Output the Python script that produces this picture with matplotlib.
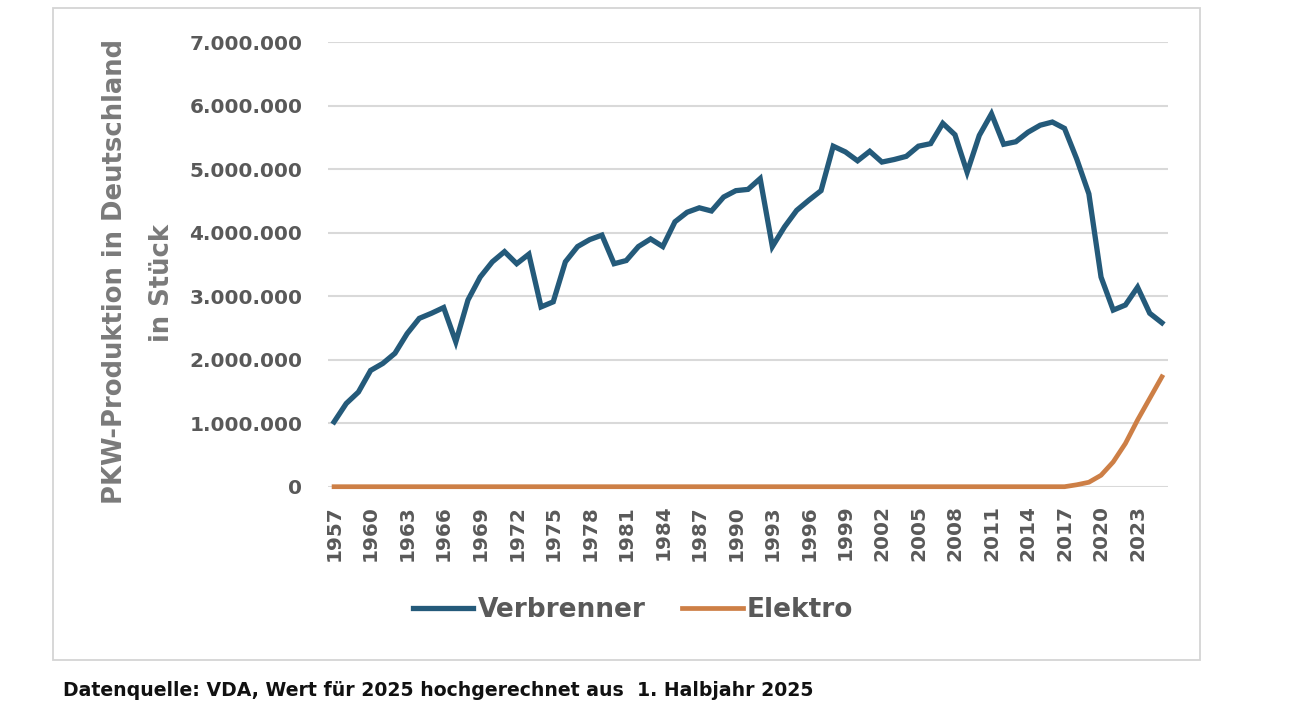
import matplotlib
matplotlib.use("Agg")
import matplotlib.pyplot as plt
from matplotlib.patches import Rectangle
from matplotlib.ticker import FuncFormatter, FixedLocator

years = list(range(1957, 2026))
verbrenner = [1.02, 1.31, 1.49, 1.83, 1.94, 2.10, 2.41, 2.65, 2.73, 2.82,
              2.28, 2.94, 3.30, 3.54, 3.70, 3.51, 3.66, 2.83, 2.91, 3.54,
              3.78, 3.89, 3.96, 3.51, 3.56, 3.78, 3.90, 3.78, 4.17, 4.32,
              4.39, 4.34, 4.56, 4.66, 4.68, 4.85, 3.78, 4.09, 4.35, 4.51,
              4.66, 5.36, 5.27, 5.13, 5.28, 5.11, 5.15, 5.20, 5.36, 5.40,
              5.72, 5.54, 4.95, 5.53, 5.87, 5.39, 5.43, 5.58, 5.69, 5.74,
              5.64, 5.16, 4.61, 3.30, 2.78, 2.86, 3.14, 2.73, 2.58]
verbrenner = [v * 1e6 for v in verbrenner]
elektro = [0.0] * 61 + [0.03, 0.07, 0.18, 0.39, 0.68, 1.05, 1.39, 1.73]
elektro = [v * 1e6 for v in elektro]
tick_years = list(range(1957, 2024, 3))
y_ticks = [0, 1e6, 2e6, 3e6, 4e6, 5e6, 6e6, 7e6]

blue = "#245a7a"
orange = "#cd7f46"
tick_col = "#595959"

fig = plt.figure(figsize=(12.9, 7.08), dpi=100)
fig.patch.set_facecolor("white")

# outer chart frame
fig.add_artist(Rectangle((53 / 1290, 1 - 660 / 708), (1200 - 53) / 1290, (660 - 8) / 708,
                         transform=fig.transFigure, fill=False, edgecolor="#d4d4d4", lw=1.3))

ax = fig.add_axes([328 / 1290, 1 - 486.7 / 708, 840 / 1290, (486.7 - 42) / 708])
ax.set_xlim(1956.5, 2025.5)
ax.set_ylim(0, 7e6)
for s in ax.spines.values():
    s.set_visible(False)
ax.yaxis.set_major_locator(FixedLocator(y_ticks))
ax.yaxis.set_major_formatter(FuncFormatter(lambda v, p: f"{int(round(v)):,}".replace(",", ".")))
ax.grid(axis="y", color="#d9d9d9", lw=1.5)
ax.set_axisbelow(True)
ax.set_xticks(tick_years)
ax.set_xticklabels([str(y) for y in tick_years], rotation=90)
ax.tick_params(axis="both", length=0, colors=tick_col, labelsize=14.4)
ax.tick_params(axis="x", pad=13)
ax.tick_params(axis="y", pad=18.5)
for lab in ax.get_xticklabels() + ax.get_yticklabels():
    lab.set_fontweight("bold")
    lab.set_color(tick_col)

ax.plot(years, verbrenner, color=blue, lw=3.8, solid_joinstyle="miter", clip_on=False,
        label="Verbrenner", zorder=3)
ax.plot(years, elektro, color=orange, lw=3.4, solid_joinstyle="round", clip_on=False,
        label="Elektro", zorder=3)

leg = fig.legend(loc="center", bbox_to_anchor=(633 / 1290, 1 - 610 / 708), ncol=2, frameon=False,
                 handlelength=2.3, handletextpad=0.15, columnspacing=1.4,
                 prop={"size": 19, "weight": "bold"})
for t in leg.get_texts():
    t.set_color(tick_col)

fig.text(115 / 1290, 1 - 272 / 708, "PKW-Produktion in Deutschland", rotation=90,
         ha="center", va="center", fontsize=18.6, fontweight="bold", color="#7a7a7a")
fig.text(162 / 1290, 1 - 283 / 708, "in Stück", rotation=90,
         ha="center", va="center", fontsize=18.6, fontweight="bold", color="#7a7a7a")

fig.text(63 / 1290, 1 - 691 / 708,
         "Datenquelle: VDA, Wert für 2025 hochgerechnet aus  1. Halbjahr 2025",
         ha="left", va="center", fontsize=13.6, fontweight="bold", color="#111111")

fig.savefig("out.png", dpi=100, facecolor="white")
